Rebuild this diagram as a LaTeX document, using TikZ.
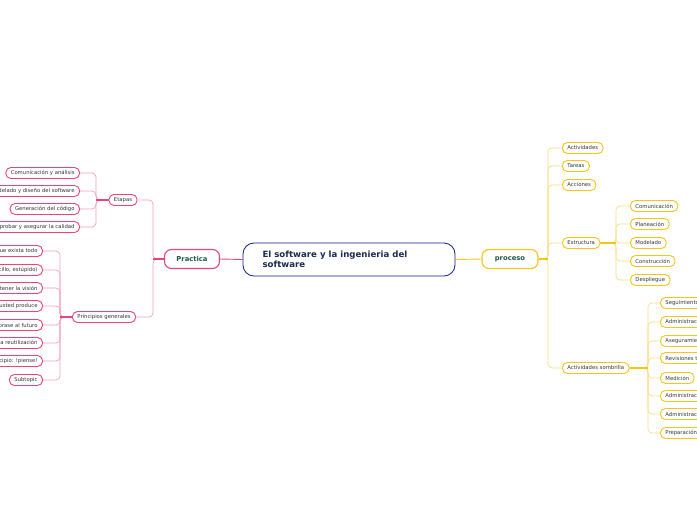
\documentclass[tikz,border=0pt]{standalone}
\usepackage{fontspec}
\setmainfont{DejaVu Sans}
\usetikzlibrary{backgrounds}
\begin{document}
\begin{tikzpicture}[x=1pt,y=-1pt,
  pk/.style={draw=pink1,line width=0.9pt,rounded corners=5pt,fill=white,font=\fontsize{5.3}{6}\selectfont,text=black!80,minimum height=11pt,inner xsep=5pt,inner ysep=1pt},
  yl/.style={pk,draw=yel1},
  pkl/.style={draw=pink2,line width=0.7pt,rounded corners=4pt},
  yll/.style={draw=yel2,line width=0.7pt,rounded corners=4pt}]
\definecolor{pink1}{HTML}{E8457A}\definecolor{pink2}{HTML}{F2A0BC}
\definecolor{yel1}{HTML}{F5C518}\definecolor{yel2}{HTML}{F8DE80}
\definecolor{navy}{HTML}{1A2A50}\definecolor{dgreen}{HTML}{1D5A48}
\useasboundingbox (0,0) rectangle (697,520);
\clip (0,0) rectangle (697,520);
\node[draw=navy!70!blue,line width=0.8pt,rounded corners=11pt,minimum width=212pt,minimum height=33pt,fill=white] (c) at (349,259.5) {};
\node[anchor=west,align=left,font=\bfseries\fontsize{8.6}{10}\selectfont,text=navy] (ct) at (259,259.5) {El software y la ingenieria del\\software};
\node[pk,line width=1.1pt,rounded corners=7pt,minimum width=55pt,minimum height=19pt,font=\bfseries\fontsize{6.8}{8}\selectfont,text=dgreen] (pr) at (192,259) {Practica};
\node[yl,line width=1.1pt,rounded corners=7pt,minimum width=56pt,minimum height=19pt,font=\bfseries\fontsize{6.8}{8}\selectfont,text=dgreen] (pc) at (510,259) {proceso};
\node[pk] (et) at (123,200) {Etapas};
\node[pk] (pg) at (104,317) {Principios generales};
\foreach \t/\y [count=\i] in {Comunicación y análisis/173,Modelado y diseño del software/191,Generación del código/209,Comprobar y asegurar la calidad/227}
  \node[pk,anchor=east] (e\i) at (80,\y) {\t};
\foreach \t/\y [count=\i] in {La razón de que exista todo/251,{MSE (Mantenlo sencillo, estúpido)}/270,Mantener la visión/288,Otros consumirán lo que usted produce/306,Ábrase al futuro/325,Planee por anticipado la reutilización/343,Séptimo principio: !piense!/361,Subtopic/380}
  \node[pk,anchor=east] (p\i) at (43,\y) {\t};
\foreach \t/\y [count=\i] in {Actividades/148,Tareas/166,Acciones/185,Estructura/243,Actividades sombrilla/368}
  \node[yl,anchor=west] (r\i) at (562,\y) {\t};
\foreach \t/\y [count=\i] in {Comunicación/206,Planeación/224,Modelado/243,Construcción/261,Despliegue/280}
  \node[yl,anchor=west] (s\i) at (630,\y) {\t};
\foreach \t/\y [count=\i] in {Seguimiento y control del proyecto/303,Administración del riesgo/322,Aseguramiento de la calidad/341,Revisiones técnicas/358,Medición/378,Administración de la configuración/396,Administración de la reutilización/414,Preparación y producción del producto del trabajo/433}
  \node[yl,anchor=west] (u\i) at (660,\y) {\t};
\begin{scope}[on background layer]
\draw[draw=pink1,line width=0.9pt] (c.west) -- (pr.east);
\draw[draw=yel1,line width=0.9pt] (c.east) -- (pc.west);
\foreach \n in {et,pg} \draw[pkl] (pr.west) -- (153,259) |- (\n.east);
\foreach \i in {1,...,4} \draw[pkl] (et.west) -- (96,200) |- (e\i.east);
\foreach \i in {1,...,8} \draw[pkl] (pg.west) -- (60,317) |- (p\i.east);
\foreach \i in {1,...,5} \draw[yll] (pc.east) -- (548,259) |- (r\i.west);
\foreach \i in {1,...,5} \draw[yll] (r4.east) -- (616,243) |- (s\i.west);
\foreach \i in {1,...,8} \draw[yll] (r5.east) -- (648,368) |- (u\i.west);
\draw[draw=pink1,line width=1.2pt] (et.west) -- (96,200) (pg.west) -- (60,317) (pr.west)--(153,259);
\draw[draw=yel1,line width=1.2pt] (r4.east) -- (616,243) (r5.east) -- (648,368) (pc.east)--(548,259);
\end{scope}
\end{tikzpicture}
\end{document}
